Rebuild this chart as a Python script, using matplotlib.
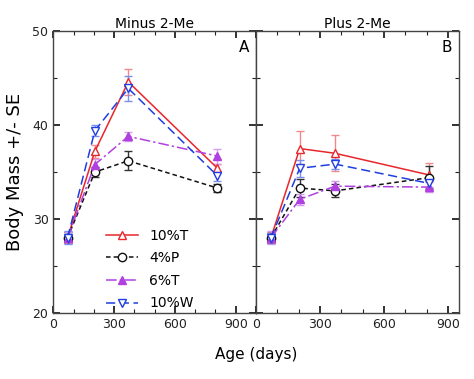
import matplotlib
matplotlib.use("Agg")
import matplotlib.pyplot as plt
from matplotlib.ticker import MultipleLocator

plt.rcParams['font.family'] = ['DejaVu Sans']

ages = [70, 205, 370, 810]
series = ["10%T", "4%P", "6%T", "10%W"]

# Minus 2-Me (panel A)
a_10T = [28.0, 37.2, 44.6, 35.4]
a_4P = [28.0, 35.0, 36.2, 33.3]
a_6T = [28.0, 35.8, 38.8, 36.7]
a_10W = [28.0, 39.4, 43.9, 34.6]
a_10T_se = [0.6, 0.7, 1.4, 0.5]
a_4P_se = [0.6, 0.5, 1.0, 0.4]
a_6T_se = [0.6, 0.6, 0.5, 0.8]
a_10W_se = [0.7, 0.6, 1.3, 0.5]

# Plus 2-Me (panel B)
b_10T = [28.0, 37.5, 37.0, 34.7]
b_4P = [28.0, 33.3, 33.0, 34.4]
b_6T = [28.0, 32.1, 33.5, 33.4]
b_10W = [28.0, 35.4, 35.85, 33.8]
b_10T_se = [0.6, 1.9, 1.9, 1.3]
b_4P_se = [0.5, 1.0, 0.7, 1.2]
b_6T_se = [0.7, 0.6, 0.6, 0.5]
b_10W_se = [0.5, 0.9, 0.5, 0.5]

styles = {
    "10%T": dict(color="#e8262b", ecolor="#f08a8a", marker="^", mfc="white", dashes=None),
    "4%P": dict(color="#111111", ecolor="#333333", marker="o", mfc="white", dashes=(3, 2)),
    "6%T": dict(color="#b040e0", ecolor="#d49af0", marker="^", mfc="#b040e0", dashes=(7, 2, 1.5, 2)),
    "10%W": dict(color="#1f3ee0", ecolor="#7b8ff0", marker="v", mfc="white", dashes=(6, 3)),
}

fig = plt.figure(figsize=(4.74, 3.79), dpi=100)
axA = fig.add_axes([0.1125, 0.174, 0.4275, 0.744])
axB = fig.add_axes([0.540, 0.174, 0.428, 0.744])

def draw(ax, data, ses):
    for name, y, se in zip(series, data, ses):
        st = styles[name]
        ax.errorbar(ages, y, yerr=se, fmt='none', ecolor=st["ecolor"], elinewidth=1.0,
                    capsize=3, capthick=1.0, zorder=2)
        line, = ax.plot(ages, y, color=st["color"], lw=1.1, marker=st["marker"], ms=6,
                        mfc=st["mfc"], mec=st["color"], mew=1.0, label=name, zorder=3)
        if st["dashes"] is not None:
            line.set_dashes(st["dashes"])

draw(axA, [a_10T, a_4P, a_6T, a_10W], [a_10T_se, a_4P_se, a_6T_se, a_10W_se])
draw(axB, [b_10T, b_4P, b_6T, b_10W], [b_10T_se, b_4P_se, b_6T_se, b_10W_se])

for ax, xmax in ((axA, 1000), (axB, 950)):
    ax.set_xlim(0, xmax)
    ax.set_ylim(20, 50)
    ax.xaxis.set_major_locator(MultipleLocator(300))
    ax.xaxis.set_minor_locator(MultipleLocator(100))
    ax.yaxis.set_major_locator(MultipleLocator(10))
    ax.yaxis.set_minor_locator(MultipleLocator(5))
    ax.tick_params(which='both', direction='in', top=True, right=True, labelsize=9, colors='#222222')
    ax.tick_params(which='major', length=5, width=1.3)
    ax.tick_params(which='minor', length=3, width=0.8)
    for sp in ax.spines.values():
        sp.set_color('#444444')
        sp.set_linewidth(1.0)

axB.tick_params(labelleft=False)
axA.set_title("Minus 2-Me", fontsize=10, pad=2)
axB.set_title("Plus 2-Me", fontsize=10, pad=2)
axA.text(0.965, 0.97, "A", transform=axA.transAxes, ha='right', va='top', fontsize=11)
axB.text(0.965, 0.97, "B", transform=axB.transAxes, ha='right', va='top', fontsize=11)

axA.set_ylabel("Body Mass +/- SE", fontsize=13, labelpad=6)
fig.text(0.54, 0.065, "Age (days)", ha='center', va='center', fontsize=11)

axA.legend(loc='lower left', bbox_to_anchor=(0.2, -0.035), frameon=False, fontsize=10,
           handlelength=2.3, handletextpad=0.8, labelspacing=0.62)

fig.savefig("out.png", dpi=100)
